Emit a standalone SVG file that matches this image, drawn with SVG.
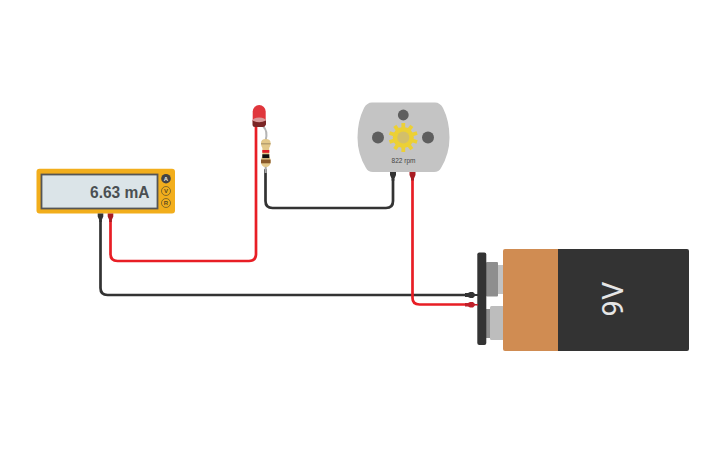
<svg xmlns="http://www.w3.org/2000/svg" width="725" height="453" viewBox="0 0 725 453">
<style>
.w{fill:none;stroke-width:2.7;stroke-linecap:round;stroke-linejoin:round}
.k{stroke:#333}.r{stroke:#e81e25}
.tk{fill:#333}.tr{fill:#a81c22}
.dial{fill:#f2ae1c;stroke:#6b5a2a;stroke-width:.8}
.dl{font:bold 6px "Liberation Sans",Arial,sans-serif;fill:#5a4a20;text-anchor:middle}
</style>
<rect width="725" height="453" fill="#fff"/>
<g id="connectors">
<path class="w k" d="M100.500 220V288Q100.500 295 107.500 295H466"/>
<path class="w r" d="M110.500 220V254Q110.500 261 117.500 261H249Q256 261 256 254V122"/>
<path class="w k" d="M265.500 170V201Q265.500 208 272.500 208H386Q393 208 393 201V180"/>
<path class="w r" d="M412.500 180V298Q412.500 304.500 419.500 304.500H466"/>
</g>
<g id="multimeter">
<rect x="36.500" y="168.700" width="138.500" height="44.800" rx="3" fill="#f2ae1c"/>
<rect x="41.500" y="174.500" width="116" height="34" fill="#dbe4e8" stroke="#555" stroke-width="1.800"/>
<text x="90" y="198" font-family="Liberation Sans,Arial,sans-serif" font-size="16" font-weight="bold" fill="#4a4f52" textLength="59.500" lengthAdjust="spacingAndGlyphs">6.63 mA</text>
<circle cx="166" cy="178.700" r="4.800" fill="#444"/>
<text x="166" y="181" class="dl" style="fill:#eee">A</text>
<circle cx="166" cy="191" r="4.500" class="dial"/>
<text x="166" y="193.200" class="dl">V</text>
<circle cx="166" cy="203" r="4.500" class="dial"/>
<text x="166" y="205.200" class="dl">R</text>
<path class="tk" d="M97.700 213.500h5.600v3l-1.500 3.500v2h-2.600v-2l-1.500-3.500z"/>
<path class="tr" d="M107.700 213.500h5.600v3l-1.500 3.500v2h-2.600v-2l-1.500-3.500z"/>
</g>
<g id="led">
<path d="M263.300 126.500Q268 131 265.700 140" fill="none" stroke="#b5b5b5" stroke-width="2"/>
<path d="M252.700 121V111.500a6.500 6.500 0 0 1 13 0V121z" fill="#e0363c"/>
<ellipse cx="259.200" cy="120.500" rx="6.800" ry="3" fill="#d99a9a"/>
<path d="M252.500 120.500q6.700 3.500 13.500 0v4q-1 2.500-3 2.500h-8q-2.500 0-2.500-2.500z" fill="#7a2525"/>
</g>
<g id="resistor">
<rect x="264.700" y="166" width="2" height="7" fill="#aaa"/>
<path d="M261 143q0-4 4.800-4t4.800 4q0 3-1.400 5v8q1.400 2 1.400 5 0 6-4.800 6t-4.800-6q0-3 1.400-5v-8q-1.400-2-1.400-5z" fill="#e3c88a"/>
<rect x="261" y="143" width="9.600" height="1.500" fill="#b8a070"/>
<rect x="262.300" y="150" width="7" height="2.800" fill="#e0202a"/>
<rect x="262.300" y="154.300" width="7" height="3.800" fill="#111"/>
<rect x="261" y="159.500" width="9.600" height="3.800" fill="#8a5a2a"/>
</g>
<g id="motor">
<path d="M372 102.500H435Q440 102.500 443 108Q449.500 121 449.500 137.500Q449.500 154 441 168Q439 172 434 172H373Q368 172 366 168Q357.500 154 357.500 137.500Q357.500 121 364 108Q367 102.500 372 102.500z" fill="#c4c4c4"/>
<circle cx="403.300" cy="115" r="5.400" fill="#5e5e5e"/>
<circle cx="378" cy="137.500" r="6" fill="#5e5e5e"/>
<circle cx="428" cy="137.500" r="6" fill="#5e5e5e"/>
<circle cx="403.300" cy="137.500" r="10.500" fill="#ecd035"/>
<g stroke="#ecd035" stroke-width="3.800">
<path d="M403.300 123V152"/>
<path d="M411.820 125.770L394.780 149.230"/>
<path d="M417.090 133.020L389.510 141.980"/>
<path d="M417.090 141.980L389.510 133.020"/>
<path d="M411.820 149.230L394.780 125.770"/>
</g>
<circle cx="403.300" cy="137.500" r="6" fill="#d3bf6a"/>
<text x="403.500" y="163" font-family="Liberation Sans,Arial,sans-serif" font-size="6.500" fill="#444" text-anchor="middle">822 rpm</text>
<path class="tk" d="M390 172h6v3l-1.500 3.500v2h-3v-2l-1.500-3.500z"/>
<path class="tr" d="M409.500 172h6v3l-1.500 3.500v2h-3v-2l-1.500-3.500z"/>
</g>
<g id="battery">
<rect x="497" y="265" width="7" height="29" fill="#c2c2c2"/>
<rect x="486" y="262" width="12" height="34.500" rx="1" fill="#8e8e8e"/>
<rect x="486" y="309" width="6" height="29" fill="#8e8e8e"/>
<rect x="490" y="306" width="14" height="34" rx="1.500" fill="#bdbdbd"/>
<path d="M503 251a2 2 0 0 1 2-2H558V351H505a2 2 0 0 1-2-2z" fill="#d08c52"/>
<path d="M558 249H687a2 2 0 0 1 2 2V349a2 2 0 0 1-2 2H558z" fill="#333"/>
<rect x="477.300" y="252.500" width="9" height="92.500" rx="2" fill="#333"/>
<text transform="translate(623 299) rotate(-90)" font-family="Roboto,Liberation Sans,sans-serif" font-size="29" fill="#e6e6e6" text-anchor="middle">9V</text>
<path class="tk" d="M465 293h3l2-1h3l2 2h3v2h-3l-2 2h-3l-2-1h-3z"/>
<path d="M465 303h3l2-1h3l2 2h3v1.500h-3l-2 2h-3l-2-1h-3z" fill="#c0202a"/>
</g>
</svg>
